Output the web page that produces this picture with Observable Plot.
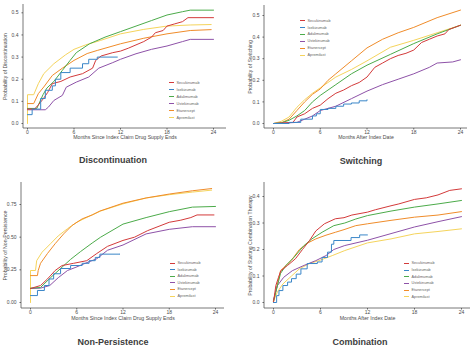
<!DOCTYPE html>
<html><head><meta charset="utf-8">
<script src="https://cdn.jsdelivr.net/npm/d3@7"></script>
<script src="https://cdn.jsdelivr.net/npm/@observablehq/plot@0.6"></script>
<style>
body{margin:0;background:#fff;font-family:"Liberation Sans",Arial,Helvetica,sans-serif;}
#root{position:relative;width:474px;height:349px;overflow:hidden;background:#fff;}
.panel{position:absolute;}
.title{position:absolute;font-weight:bold;font-size:9px;color:#3d3d3d;transform:translate(-50%,-50%);white-space:nowrap;}
.lg{position:absolute;font-size:3.8px;color:#666;white-space:nowrap;line-height:4px;}
.lg span.k{display:inline-block;width:5px;height:1px;vertical-align:middle;margin-right:2.5px;}
</style></head>
<body><div id="root"></div>
<script>
// ---------- categories, colours, ticks ----------
const drugs = ["Secukinumab","Ixekizumab","Adalimumab","Ustekinumab","Etanercept","Apremilast"];
const colors = ["#d33a3a","#3a86c8","#4cab4a","#8e52a8","#f08c2a","#f5d45c"];
const xTicks = [0,6,12,18,24];
const titles = ["Discontinuation","Switching","Non-Persistence","Combination"];
const xLabels = ["Months Since Index Claim Drug Supply Ends","Months After Index Date","Months Since Index Claim Drug Supply Ends","Months After Index Date"];
const yLabels = ["Probability of Discontinuation","Probability of Switching","Probability of Non-Persistence","Probability of Starting Combination Therapy"];
const yTicksDisc = [0,0.1,0.2,0.3,0.4,0.5];
const yTicksSwitch = [0,0.1,0.2,0.3,0.4,0.5];
const yTicksNonP = [0,0.25,0.5,0.75];
const yTicksComb = [0,0.1,0.2,0.3,0.4];

// ---------- Discontinuation [month, probability] ----------
const discSecukinumab = [[0,0.065],[0.9,0.065],[1.3,0.08],[2,0.11],[2.6,0.14],[3.2,0.18],[4.3,0.19],[5.5,0.21],[7.1,0.225],[8.4,0.25],[8.8,0.285],[9.5,0.305],[11,0.32],[12,0.327],[13,0.34],[14,0.355],[15,0.37],[16,0.39],[16.5,0.41],[17.5,0.42],[18,0.44],[19,0.45],[20,0.46],[20.7,0.478],[24,0.478]];
const discIxekizumab = [[0,0.04],[0.6,0.065],[1.7,0.113],[2.3,0.15],[3.2,0.17],[3.6,0.2],[4.3,0.23],[5.5,0.25],[7.1,0.27],[7.9,0.29],[9,0.3],[11.6,0.3]];
const discAdalimumab = [[0,0.068],[1.2,0.068],[2,0.13],[2.5,0.16],[3.4,0.19],[4.5,0.24],[5.5,0.285],[6.3,0.32],[8,0.36],[10,0.39],[12,0.415],[14,0.44],[16,0.465],[18,0.49],[20,0.505],[21,0.512],[24,0.512]];
const discUstekinumab = [[0,0.062],[2.3,0.062],[2.7,0.074],[3.4,0.104],[4.5,0.127],[5,0.164],[6.3,0.187],[7.9,0.21],[9.2,0.25],[11,0.275],[12,0.29],[14,0.315],[16,0.335],[18,0.35],[20,0.37],[21,0.38],[24,0.38]];
const discEtanercept = [[0,0.09],[0.8,0.09],[1.4,0.135],[2.1,0.165],[3.2,0.217],[4.5,0.25],[6,0.285],[7.7,0.316],[9,0.33],[12,0.36],[15,0.385],[18,0.405],[21,0.42],[23.7,0.424]];
const discApremilast = [[0,0],[0,0.13],[0.8,0.13],[1.4,0.18],[2.1,0.225],[3.4,0.27],[4.9,0.31],[6,0.335],[7.5,0.355],[9.4,0.375],[12,0.405],[15,0.425],[18,0.44],[21,0.445],[23.7,0.447]];

// ---------- Switching ----------
const swSecukinumab = [[0,0],[2.5,0.005],[3,0.03],[4,0.045],[5,0.07],[6,0.085],[7,0.115],[8,0.14],[9,0.155],[10,0.175],[11,0.19],[12,0.215],[13,0.26],[14,0.28],[15,0.3],[16,0.315],[17,0.325],[18,0.34],[19,0.375],[20,0.39],[21,0.405],[22,0.415],[22.5,0.435],[24,0.455]];
const swIxekizumab = [[0,0],[2,0.005],[3.5,0.02],[5,0.035],[5.5,0.045],[6,0.065],[7,0.07],[8,0.08],[9,0.09],[10,0.095],[11,0.105],[12,0.11]];
const swAdalimumab = [[0,0],[1,0.003],[2,0.015],[3,0.035],[4,0.06],[5,0.1],[6,0.13],[8,0.18],[10,0.23],[12,0.27],[15,0.32],[18,0.37],[21,0.415],[24,0.455]];
const swUstekinumab = [[0,0],[3,0.005],[4,0.02],[5,0.035],[6,0.06],[8,0.08],[10,0.115],[12,0.15],[14,0.18],[16,0.205],[18,0.23],[20,0.26],[21,0.28],[23,0.285],[24,0.295]];
const swEtanercept = [[0,0],[1,0.003],[2,0.02],[3,0.06],[4,0.1],[5,0.135],[6,0.16],[7,0.2],[8,0.23],[10,0.29],[12,0.35],[14,0.39],[16,0.42],[18,0.445],[21,0.49],[24,0.525]];
const swApremilast = [[0,0],[1,0.01],[2,0.03],[3,0.075],[4,0.11],[5,0.14],[6,0.165],[8,0.215],[10,0.25],[12,0.29],[15,0.353],[18,0.385],[21,0.42],[24,0.455]];

// ---------- Non-Persistence ----------
const npSecukinumab = [[0,0.107],[1.3,0.13],[2.2,0.18],[3.2,0.245],[4.1,0.283],[5.6,0.3],[7.3,0.32],[8.6,0.375],[10,0.43],[12,0.475],[13.5,0.5],[15.2,0.55],[18,0.614],[19.5,0.63],[20.8,0.65],[21.6,0.67],[23.8,0.67]];
const npIxekizumab = [[0,0.053],[0.9,0.092],[1.8,0.13],[2.4,0.18],[3,0.22],[3.9,0.26],[5.2,0.283],[6.7,0.3],[7.6,0.32],[8.4,0.345],[9,0.37],[11.6,0.37]];
const npAdalimumab = [[0,0.11],[1.3,0.115],[2.6,0.19],[3.9,0.26],[5.2,0.33],[6.5,0.39],[8,0.455],[9.1,0.5],[12,0.6],[15,0.65],[18,0.695],[21,0.73],[24,0.735]];
const npUstekinumab = [[0,0.107],[1.3,0.11],[2.5,0.13],[3.6,0.19],[4.8,0.245],[5.9,0.27],[7.1,0.3],[8.6,0.335],[10,0.4],[12,0.44],[15,0.525],[18,0.56],[21,0.58],[24,0.58]];
const npEtanercept = [[0,0.206],[0.9,0.206],[1,0.245],[1.3,0.3],[2.2,0.375],[3.2,0.45],[4.3,0.525],[5.4,0.59],[6.7,0.64],[8,0.67],[9,0.7],[12,0.76],[15,0.8],[18,0.83],[21,0.855],[23.5,0.872]];
const npApremilast = [[0,0],[0,0.245],[0.65,0.245],[0.8,0.32],[1.5,0.385],[2.6,0.45],[3.6,0.51],[4.8,0.565],[6,0.614],[7.8,0.665],[9.1,0.7],[12,0.755],[15,0.8],[18,0.825],[21,0.845],[23.5,0.86]];

// ---------- Combination ----------
const cbSecukinumab = [[0,0],[0.3,0.064],[0.64,0.095],[0.94,0.12],[1.8,0.14],[2.8,0.165],[3.7,0.2],[4.6,0.234],[5.4,0.27],[6.5,0.297],[7.9,0.316],[9,0.32],[10,0.33],[12,0.341],[13,0.35],[15,0.365],[16,0.372],[18,0.389],[19.5,0.395],[21,0.406],[22.5,0.423],[24,0.429]];
const cbIxekizumab = [[0,0],[0.4,0.026],[0.7,0.045],[1.2,0.064],[1.8,0.077],[2.3,0.09],[2.9,0.107],[3.5,0.127],[4.3,0.147],[5.6,0.153],[6.2,0.17],[6.9,0.19],[7.4,0.22],[7.7,0.234],[9.9,0.245],[11,0.255],[12,0.255]];
const cbAdalimumab = [[0,0.005],[0.9,0.11],[1.6,0.14],[2.6,0.17],[3.9,0.215],[4.9,0.24],[6.2,0.265],[7.7,0.29],[9.1,0.3],[10.5,0.315],[12,0.328],[15,0.345],[18,0.36],[21,0.372],[24,0.385]];
const cbUstekinumab = [[0,0.01],[0.5,0.064],[1.3,0.095],[2.4,0.12],[3.9,0.14],[5.4,0.158],[6.7,0.177],[7.7,0.2],[9.1,0.215],[12,0.235],[15,0.26],[18,0.285],[21,0.305],[24,0.324]];
const cbEtanercept = [[0,0.005],[0.9,0.12],[2.3,0.16],[3.3,0.2],[4.4,0.225],[5.4,0.24],[6.7,0.254],[7.9,0.265],[9,0.275],[10.5,0.29],[12,0.297],[15,0.31],[18,0.322],[21,0.33],[24,0.343]];
const cbApremilast = [[0,0.005],[0.5,0.04],[1.2,0.07],[2.3,0.1],[3.3,0.127],[4.6,0.147],[5.8,0.158],[7.5,0.177],[9.1,0.196],[12,0.225],[15,0.24],[18,0.259],[21,0.268],[24,0.278]];

const seriesByPanel = [
  [discSecukinumab,discIxekizumab,discAdalimumab,discUstekinumab,discEtanercept,discApremilast],
  [swSecukinumab,swIxekizumab,swAdalimumab,swUstekinumab,swEtanercept,swApremilast],
  [npSecukinumab,npIxekizumab,npAdalimumab,npUstekinumab,npEtanercept,npApremilast],
  [cbSecukinumab,cbIxekizumab,cbAdalimumab,cbUstekinumab,cbEtanercept,cbApremilast]
];

// ---------- layout (pixels) ----------
const layout = [
  {left:0,  top:0,   w:237, h:145, ml:23, mr:11, mt:4, mb:17, xr:[27,213], yd:[0,0.5],  yr:[123,12.3], yt:yTicksDisc,   fmt:d3.format(".1f"), ydx:-18.5, xdy:9,
   title:[113,160], legend:{x:169, y:82.7, dy:7.0}},
  {left:237,top:0,   w:237, h:145, ml:27, mr:7,  mt:5, mb:17, xr:[36,223], yd:[0,0.5],  yr:[123,15],   yt:yTicksSwitch, fmt:d3.format(".1f"), ydx:-14, xdy:8.7,
   title:[361,161], legend:{x:300, y:20.7, dy:6.86}},
  {left:0,  top:175, w:237, h:150, ml:21, mr:13, mt:7, mb:17, xr:[30,215], yd:[0,0.75], yr:[127,29],   yt:yTicksNonP,   fmt:d3.format(".2f"), ydx:-16.5, xdy:10,
   title:[113,342], legend:{x:170, y:263, dy:6.6}},
  {left:237,top:175, w:237, h:150, ml:27, mr:4,  mt:7, mb:17, xr:[36,224], yd:[0,0.4],  yr:[127,21],   yt:yTicksComb,   fmt:d3.format(".1f"), ydx:-14, xdy:9.7,
   title:[360,342], legend:{x:404, y:263.3, dy:6.7}}
];

const root = document.getElementById("root");
const drawOrder = [5,4,3,2,0,1];

layout.forEach((L, pi) => {
  const rows = [];
  drawOrder.forEach(i => seriesByPanel[pi][i].forEach(([t,p]) => rows.push({drug:drugs[i], t, p})));
  const ixe = rows.filter(d => d.drug === "Ixekizumab");
  const others = rows.filter(d => d.drug !== "Ixekizumab");
  const chart = Plot.plot({
    width: L.w, height: L.h,
    marginLeft: L.ml, marginRight: L.mr, marginTop: L.mt, marginBottom: L.mb,
    style: {fontFamily: '"Liberation Sans",Arial,sans-serif', fontSize: "5px", color: "#4a4a4a", background: "transparent", overflow: "visible"},
    x: {domain: [0,24], range: L.xr},
    y: {domain: L.yd, range: L.yr},
    color: {domain: drugs, range: colors},
    marks: [
      Plot.axisX({ticks: xTicks, tickSize: 1.5, tickPadding: 0.8, label: null, stroke: "#666", fill: "#4a4a4a"}),
      Plot.axisY({ticks: L.yt, tickFormat: L.fmt, tickSize: 1.5, tickPadding: 3.5, label: null, stroke: "#666", fill: "#4a4a4a"}),
      Plot.line(others, {x: "t", y: "p", z: "drug", stroke: "drug", strokeWidth: 1, curve: "linear"}),
      Plot.line(ixe, {x: "t", y: "p", stroke: "drug", strokeWidth: 1, curve: "step-after"}),
      Plot.text([xLabels[pi]], {text: d => d, frameAnchor: "bottom", textAnchor: "middle", lineAnchor: "middle", dy: L.xdy, fontSize: 5.2, fill: "#4a4a4a"}),
      Plot.text([yLabels[pi]], {text: d => d, frameAnchor: "left", textAnchor: "middle", lineAnchor: "middle", dx: L.ydx, rotate: -90, fontSize: 5.2, fill: "#4a4a4a"})
    ]
  });
  // axis lines (theme_classic style)
  const s = d3.select(chart);
  s.append("line").attr("x1", L.ml).attr("x2", L.ml).attr("y1", L.mt).attr("y2", L.h - L.mb)
    .attr("stroke", "#555").attr("stroke-width", 0.8);
  s.append("line").attr("x1", L.ml).attr("x2", L.w - L.mr).attr("y1", L.h - L.mb).attr("y2", L.h - L.mb)
    .attr("stroke", "#555").attr("stroke-width", 0.8);
  const wrap = document.createElement("div");
  wrap.className = "panel";
  wrap.style.left = L.left + "px"; wrap.style.top = L.top + "px";
  wrap.appendChild(chart);
  root.appendChild(wrap);

  // title
  const t = document.createElement("div");
  t.className = "title";
  t.style.left = L.title[0] + "px"; t.style.top = L.title[1] + "px";
  t.textContent = titles[pi];
  root.appendChild(t);

  // legend
  drugs.forEach((d, i) => {
    const r = document.createElement("div");
    r.className = "lg";
    r.style.left = L.legend.x + "px";
    r.style.top = (L.legend.y + i * L.legend.dy - 2) + "px";
    r.innerHTML = `<span class="k" style="background:${colors[i]}"></span>${d}`;
    root.appendChild(r);
  });
});
</script>
</body></html>
